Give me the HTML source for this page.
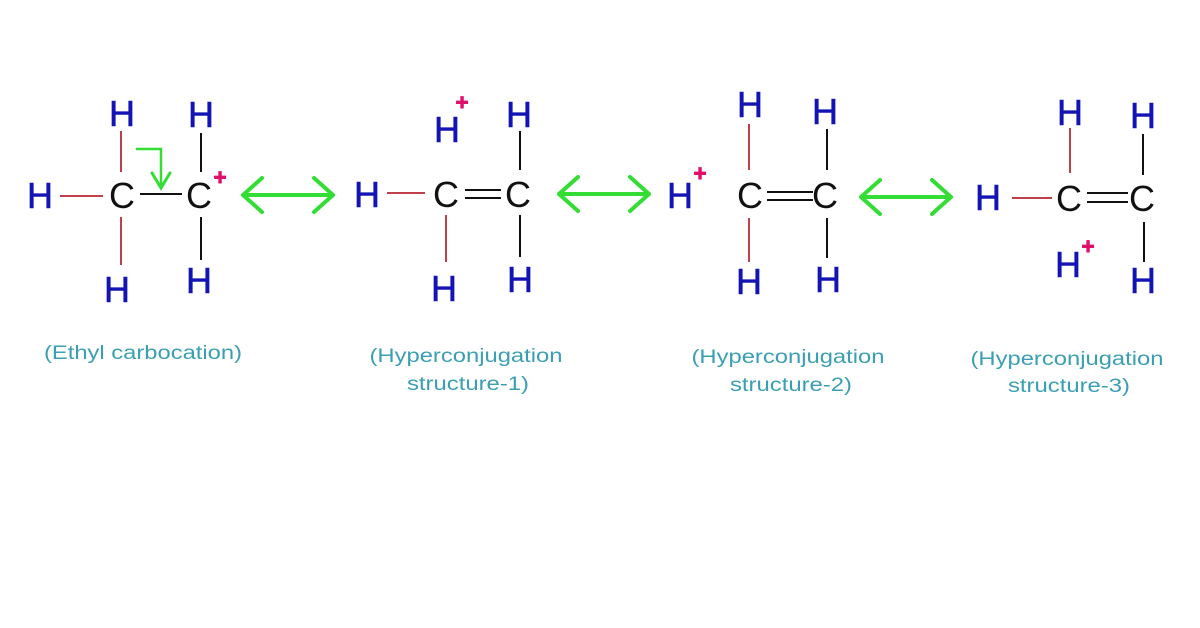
<!DOCTYPE html>
<html><head><meta charset="utf-8"><style>
html,body{margin:0;padding:0;background:#fff;}
svg{display:block;}
.h{font-family:"Liberation Sans",Arial,sans-serif;font-size:36px;fill:#1414b4;text-anchor:middle;stroke:#1414b4;stroke-width:0.6;}
.c{font-family:"Liberation Sans",Arial,sans-serif;font-size:36px;fill:#111;text-anchor:middle;}
.p{font-family:"Liberation Sans",Arial,sans-serif;font-size:22px;font-weight:bold;fill:#e0106a;text-anchor:middle;stroke:#e0106a;stroke-width:1;}
.l{font-family:"Liberation Sans",Arial,sans-serif;font-size:19px;fill:#3a9fb2;text-anchor:middle;}
.r{stroke:#c0404a;stroke-width:2;}
.k{stroke:#111;stroke-width:2;}
.g{stroke:#33dd33;stroke-width:4;fill:none;stroke-linecap:round;stroke-linejoin:round;}
</style></head><body>
<svg width="1200" height="628" viewBox="0 0 1200 628" xmlns="http://www.w3.org/2000/svg">
<rect width="1200" height="628" fill="#fff"/>
<text class="h" x="122" y="126">H</text>
<text class="h" x="201" y="127">H</text>
<text class="h" x="40" y="208">H</text>
<text class="c" x="122" y="208">C</text>
<text class="c" x="199" y="208">C</text>
<text class="p" x="220" y="185">+</text>
<text class="h" x="117" y="302">H</text>
<text class="h" x="199" y="293">H</text>
<line class="r" x1="60" y1="196" x2="103" y2="196"/>
<line class="k" x1="140" y1="194" x2="182" y2="194"/>
<line class="r" x1="121" y1="131" x2="121" y2="172"/>
<line class="r" x1="121" y1="217" x2="121" y2="265"/>
<line class="k" x1="201" y1="133" x2="201" y2="172"/>
<line class="k" x1="201" y1="217" x2="201" y2="260"/>
<path d="M136 149 H161 V186" stroke="#33dd33" stroke-width="2.5" fill="none"/>
<path d="M152 173 L161 188 L170 173" stroke="#33dd33" stroke-width="3" fill="none" stroke-linecap="round"/>
<path class="g" d="M243 195 H333 M262 178 L243 195 L262 212 M314 178 L333 195 L314 212"/>
<text class="h" x="447" y="142">H</text>
<text class="p" x="462" y="110">+</text>
<text class="h" x="519" y="127">H</text>
<text class="h" x="367" y="207">H</text>
<text class="c" x="446" y="207">C</text>
<text class="c" x="518" y="207">C</text>
<line class="r" x1="387" y1="193" x2="425" y2="193"/>
<line class="k" x1="465" y1="190" x2="501" y2="190"/>
<line class="k" x1="465" y1="198" x2="501" y2="198"/>
<line class="r" x1="446" y1="215" x2="446" y2="262"/>
<line class="k" x1="520" y1="131" x2="520" y2="170"/>
<line class="k" x1="520" y1="215" x2="520" y2="257"/>
<text class="h" x="444" y="301">H</text>
<text class="h" x="520" y="292">H</text>
<path class="g" d="M559 194 H649 M578 177 L559 194 L578 211 M630 177 L649 194 L630 211"/>
<text class="h" x="680" y="208">H</text>
<text class="p" x="700" y="181">+</text>
<text class="c" x="750" y="208">C</text>
<text class="c" x="825" y="208">C</text>
<line class="k" x1="767" y1="192" x2="813" y2="192"/>
<line class="k" x1="767" y1="200" x2="813" y2="200"/>
<text class="h" x="750" y="117">H</text>
<line class="r" x1="749" y1="124" x2="749" y2="170"/>
<line class="r" x1="749" y1="218" x2="749" y2="262"/>
<text class="h" x="749" y="294">H</text>
<text class="h" x="825" y="124">H</text>
<line class="k" x1="827" y1="129" x2="827" y2="170"/>
<line class="k" x1="827" y1="218" x2="827" y2="258"/>
<text class="h" x="828" y="292">H</text>
<path class="g" d="M861 197 H951 M880 180 L861 197 L880 214 M932 180 L951 197 L932 214"/>
<text class="h" x="988" y="210">H</text>
<line class="r" x1="1012" y1="198" x2="1052" y2="198"/>
<text class="c" x="1069" y="211">C</text>
<text class="c" x="1142" y="211">C</text>
<line class="k" x1="1087" y1="193" x2="1128" y2="193"/>
<line class="k" x1="1087" y1="202" x2="1128" y2="202"/>
<text class="h" x="1070" y="125">H</text>
<line class="r" x1="1070" y1="128" x2="1070" y2="173"/>
<text class="h" x="1143" y="128">H</text>
<line class="k" x1="1143" y1="134" x2="1143" y2="175"/>
<line class="k" x1="1144" y1="222" x2="1144" y2="262"/>
<text class="h" x="1143" y="293">H</text>
<text class="h" x="1068" y="277">H</text>
<text class="p" x="1088" y="254">+</text>
<text class="l" x="143" y="359" textLength="198" lengthAdjust="spacingAndGlyphs">(Ethyl carbocation)</text>
<text class="l" x="466" y="362" textLength="193" lengthAdjust="spacingAndGlyphs">(Hyperconjugation</text>
<text class="l" x="468" y="390" textLength="122" lengthAdjust="spacingAndGlyphs">structure-1)</text>
<text class="l" x="788" y="363" textLength="193" lengthAdjust="spacingAndGlyphs">(Hyperconjugation</text>
<text class="l" x="791" y="391" textLength="122" lengthAdjust="spacingAndGlyphs">structure-2)</text>
<text class="l" x="1067" y="365" textLength="193" lengthAdjust="spacingAndGlyphs">(Hyperconjugation</text>
<text class="l" x="1069" y="392" textLength="122" lengthAdjust="spacingAndGlyphs">structure-3)</text>
</svg>
</body></html>
